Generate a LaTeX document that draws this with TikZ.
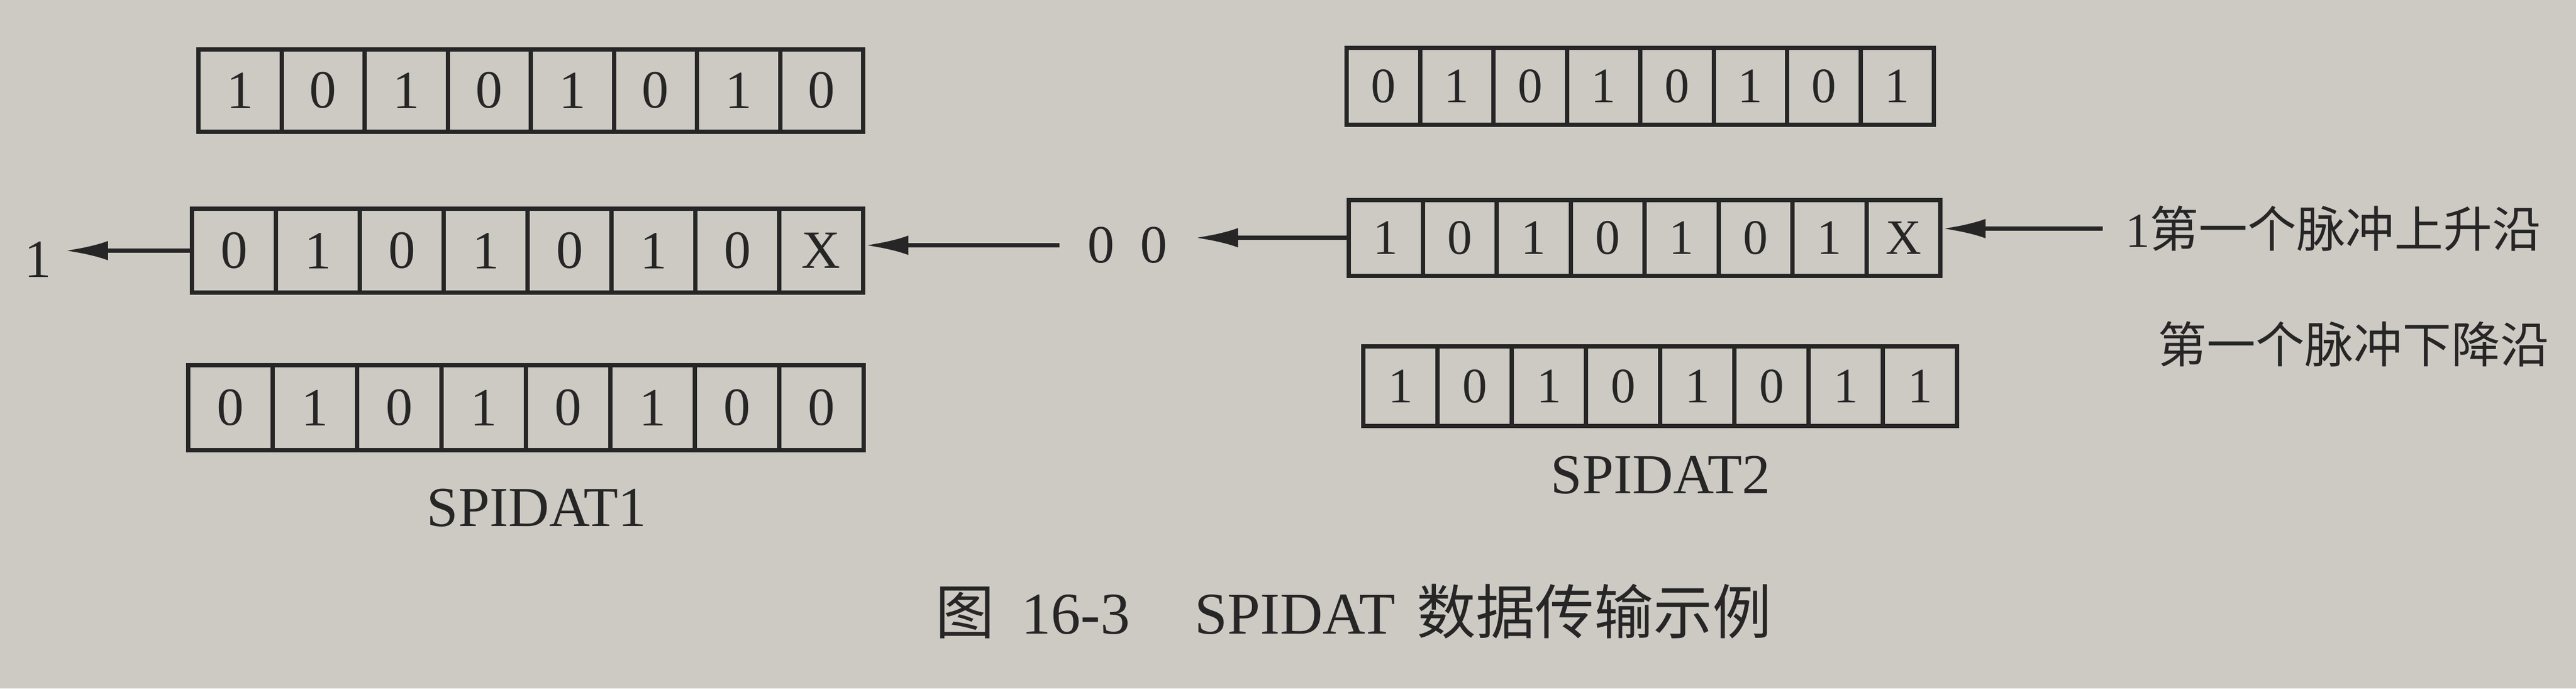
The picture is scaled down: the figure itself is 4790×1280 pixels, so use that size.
\documentclass[tikz,border=0pt]{standalone}
\usepackage{fontspec}
\setmainfont{Liberation Serif}
\newfontfamily\cjk{Noto Sans CJK SC}
\usetikzlibrary{arrows.meta}
\definecolor{paper}{RGB}{205,202,196}
\definecolor{ink}{RGB}{38,38,38}

\begin{document}
\begin{tikzpicture}[x=0.1pt, y=-0.1pt,
        cell/.style={draw=ink, line width=0.8pt, inner sep=0pt, text=ink},
        lbl/.style={inner sep=0pt, text=ink, font=\fontsize{9.1}{11}\selectfont},
        feed/.style={draw=ink, line width=0.8pt, -{Latex[length=8pt,width=3.6pt]}}]
    \fill[paper] (0, 0) rectangle (4790, 1280);
    \useasboundingbox (0, 0) rectangle (4790, 1280);
    % shift registers, name/left/centre y/cell width/height/font size/bits
    \foreach \row/\x/\y/\w/\h/\fs/\bits in {
            l1/369/168/154.5/153/10/{1,0,1,0,1,0,1,0},
            l2/357/466/156/156/10/{0,1,0,1,0,1,0,X},
            l3/350/758/157/158/10/{0,1,0,1,0,1,0,0},
            r1/2504/160/136.5/143/9.2/{0,1,0,1,0,1,0,1},
            r2/2508/442/137.5/141/9.2/{1,0,1,0,1,0,1,X},
            r3/2535/718/138/148/9.2/{1,0,1,0,1,0,1,1}}{
        \foreach \bit [count=\i] in \bits
            \node[cell, minimum width=\w*0.1pt, minimum height=\h*0.1pt,
                font=\fontsize{\fs}{12}\selectfont]
                (\row-\i) at ({\x+(\i-0.5)*\w}, \y) {\bit};
    }
    % texts
    \node[lbl, inner xsep=2.4pt, font=\fontsize{10}{12}\selectfont] (one) at (70, 482) {1};
    \node[lbl, inner xsep=5pt, font=\fontsize{10}{12}\selectfont] (zz) at (2096, 456) {0\hspace{4.8pt}0};
    \node[lbl, inner xsep=4pt, anchor=west] (rise) at (3910, 425) {1{\cjk 第一个脉冲上升沿}};
    \node[lbl] (fall) at (4376, 640) {\cjk 第一个脉冲下降沿};
    \node[lbl, font=\fontsize{10.5}{12}\selectfont] (dat1) at (998, 944) {SPIDAT1};
    \node[lbl, font=\fontsize{10.5}{12}\selectfont] (dat2) at (3088, 883) {SPIDAT2};
    \node[lbl, font=\fontsize{11}{13}\selectfont] (caption) at (2517, 1137)
        {{\cjk 图}\hspace{5pt}16-3\hspace{12pt}SPIDAT\hspace{4pt}{\cjk 数据传输示例}};
    % data flow
    \draw[feed] (l2-1.west) -- (l2-1.west -| one.east);
    \draw[feed] (zz.west) -- (zz.west -| l2-8.east);
    \draw[feed] (r2-1.west) -- (r2-1.west -| zz.east);
    \draw[feed] (rise.west) -- (rise.west -| r2-8.east);
\end{tikzpicture}
\end{document}
